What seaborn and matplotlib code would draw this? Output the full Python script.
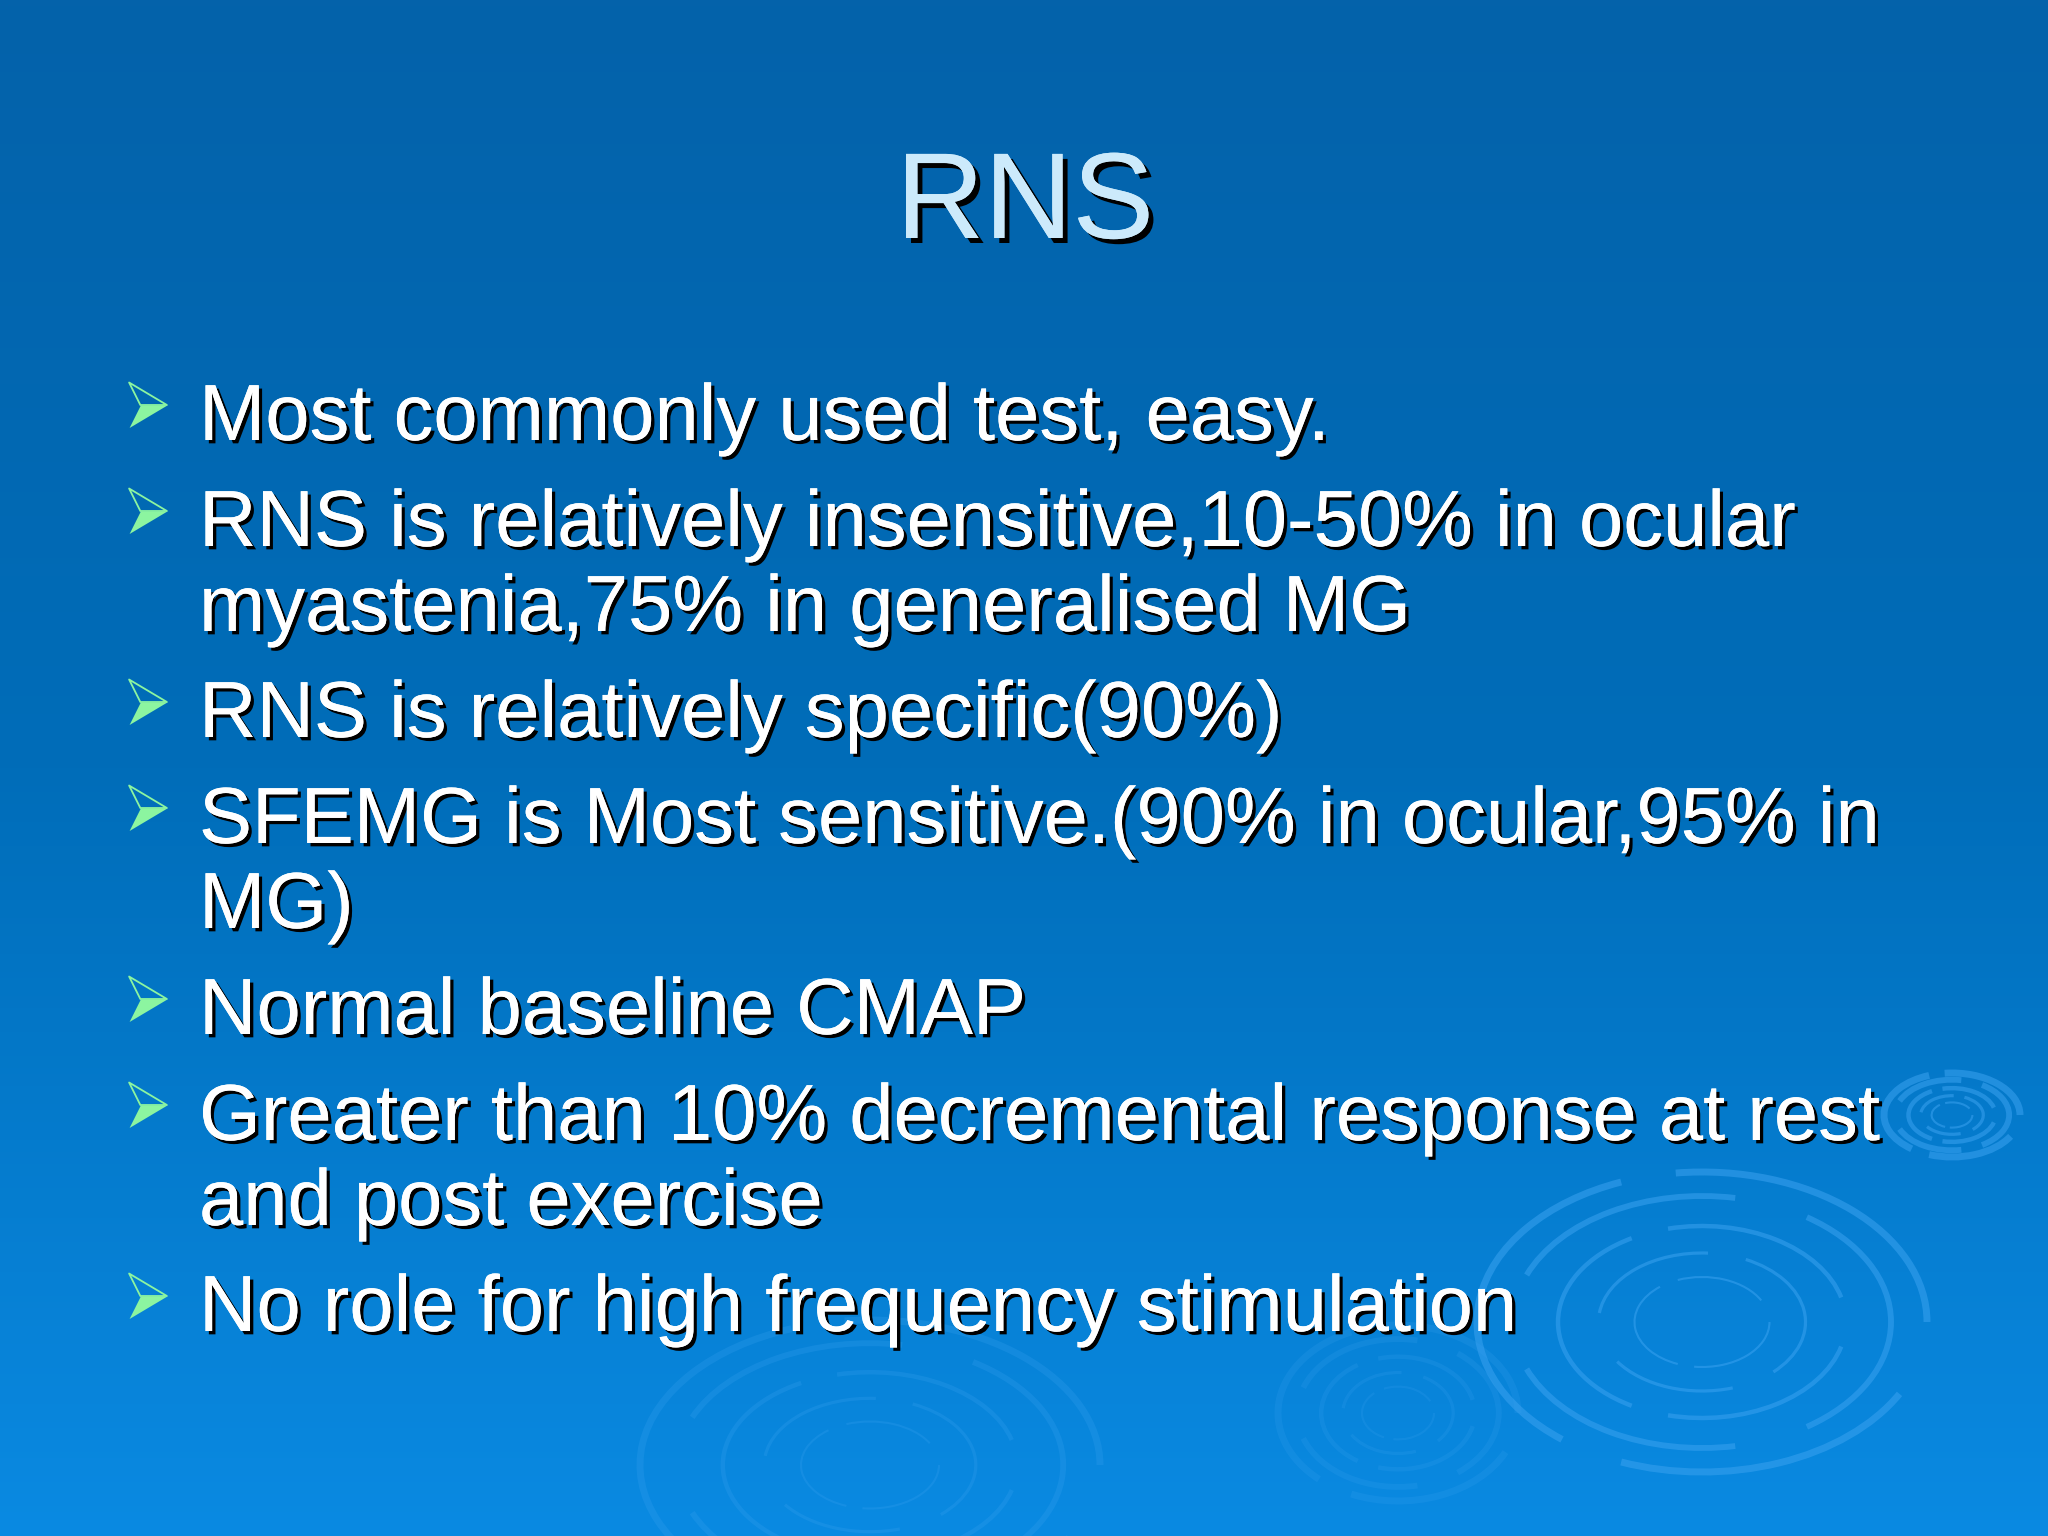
import numpy as np
import matplotlib
matplotlib.use("Agg")
import matplotlib.pyplot as plt
import matplotlib.patheffects as pe
from matplotlib.colors import LinearSegmentedColormap
from matplotlib.patches import Arc
from matplotlib.path import Path
import seaborn as sns

# slide text
title = "RNS"
paragraphs = [
    ["Most commonly used test, easy."],
    ["RNS is relatively insensitive,10-50% in ocular", "myastenia,75% in generalised MG"],
    ["RNS is relatively specific(90%)"],
    ["SFEMG is Most sensitive.(90% in ocular,95% in", "MG)"],
    ["Normal baseline CMAP"],
    ["Greater than 10% decremental response at rest", "and post exercise"],
    ["No role for high frequency stimulation"],
]

# background ripples: centre x, centre y, radius x, radius y, strength
ripple_cx = [1702, 1952, 870, 1398]
ripple_cy = [1322, 1115, 1465, 1413]
ripple_rx = [225, 68, 230, 120]
ripple_ry = [150, 42, 145, 88]
ripple_alpha = [0.55, 0.55, 0.25, 0.2]

sns.set_theme(style="white")
plt.rcParams["font.family"] = ["Liberation Sans", "DejaVu Sans"]

W, H = 2048, 1536
fig = plt.figure(figsize=(W / 100, H / 100), dpi=100)
ax = fig.add_axes([0, 0, 1, 1])
ax.set_xlim(0, W)
ax.set_ylim(H, 0)
ax.axis("off")

# vertical gradient
cmap = LinearSegmentedColormap.from_list("slide", ["#0462AA", "#006DB9", "#0A8AE2"])
grad = np.linspace(0, 1, 256).reshape(-1, 1)
ax.imshow(grad, cmap=cmap, extent=[0, W, H, 0], aspect="auto", zorder=0)

# ripples
ring_fracs = [1.0, 0.84, 0.64, 0.46, 0.3]
for cx, cy, rx, ry, a in zip(ripple_cx, ripple_cy, ripple_rx, ripple_ry, ripple_alpha):
    for k, f in enumerate(ring_fracs):
        start = 20 + 55 * k
        for seg in range(3):
            t1 = start + seg * 120
            t2 = t1 + 100 - 10 * (k % 2)
            ax.add_patch(Arc((cx, cy), 2 * rx * f, 2 * ry * f, theta1=t1, theta2=t2,
                             color="#3AA2F0", lw=max(1.5, 5 * f), alpha=a, zorder=1))

shadow_small = [pe.withSimplePatchShadow(offset=(2.4, -2.4), shadow_rgbFace="black", alpha=1.0),
                pe.Normal()]
shadow_big = [pe.withSimplePatchShadow(offset=(3.6, -3.6), shadow_rgbFace="black", alpha=1.0),
              pe.Normal()]

ax.text(1025, 238, title, ha="center", va="baseline", fontsize=88, color="#CCEAFB",
        path_effects=shadow_big, zorder=3)

# bullet arrowhead markers (outlined upper half, filled lower half)
upper = Path([(-0.84, 1.0), (0.84, 0.0), (-0.34, 0.0), (-0.84, 1.0)],
             [Path.MOVETO, Path.LINETO, Path.LINETO, Path.CLOSEPOLY])
lower = Path([(-0.34, 0.0), (0.84, 0.0), (-0.84, -1.0), (-0.34, 0.0)],
             [Path.MOVETO, Path.LINETO, Path.LINETO, Path.CLOSEPOLY])

y = 440
bx, by = [], []
for lines in paragraphs:
    bx.append(148)
    by.append(y - 35)
    for line in lines:
        ax.text(199, y, line, ha="left", va="baseline", fontsize=57.3, color="white",
                path_effects=shadow_small, zorder=3)
        y += 85
    y += 21

ax.scatter(bx, by, marker=lower, s=1050, color="#8CF5A0", linewidths=0, zorder=4)
ax.scatter(bx, by, marker=upper, s=1050, facecolors="none", edgecolors="#8CF5A0",
           linewidths=1.3, zorder=4)

fig.savefig("out.png", dpi=100)
